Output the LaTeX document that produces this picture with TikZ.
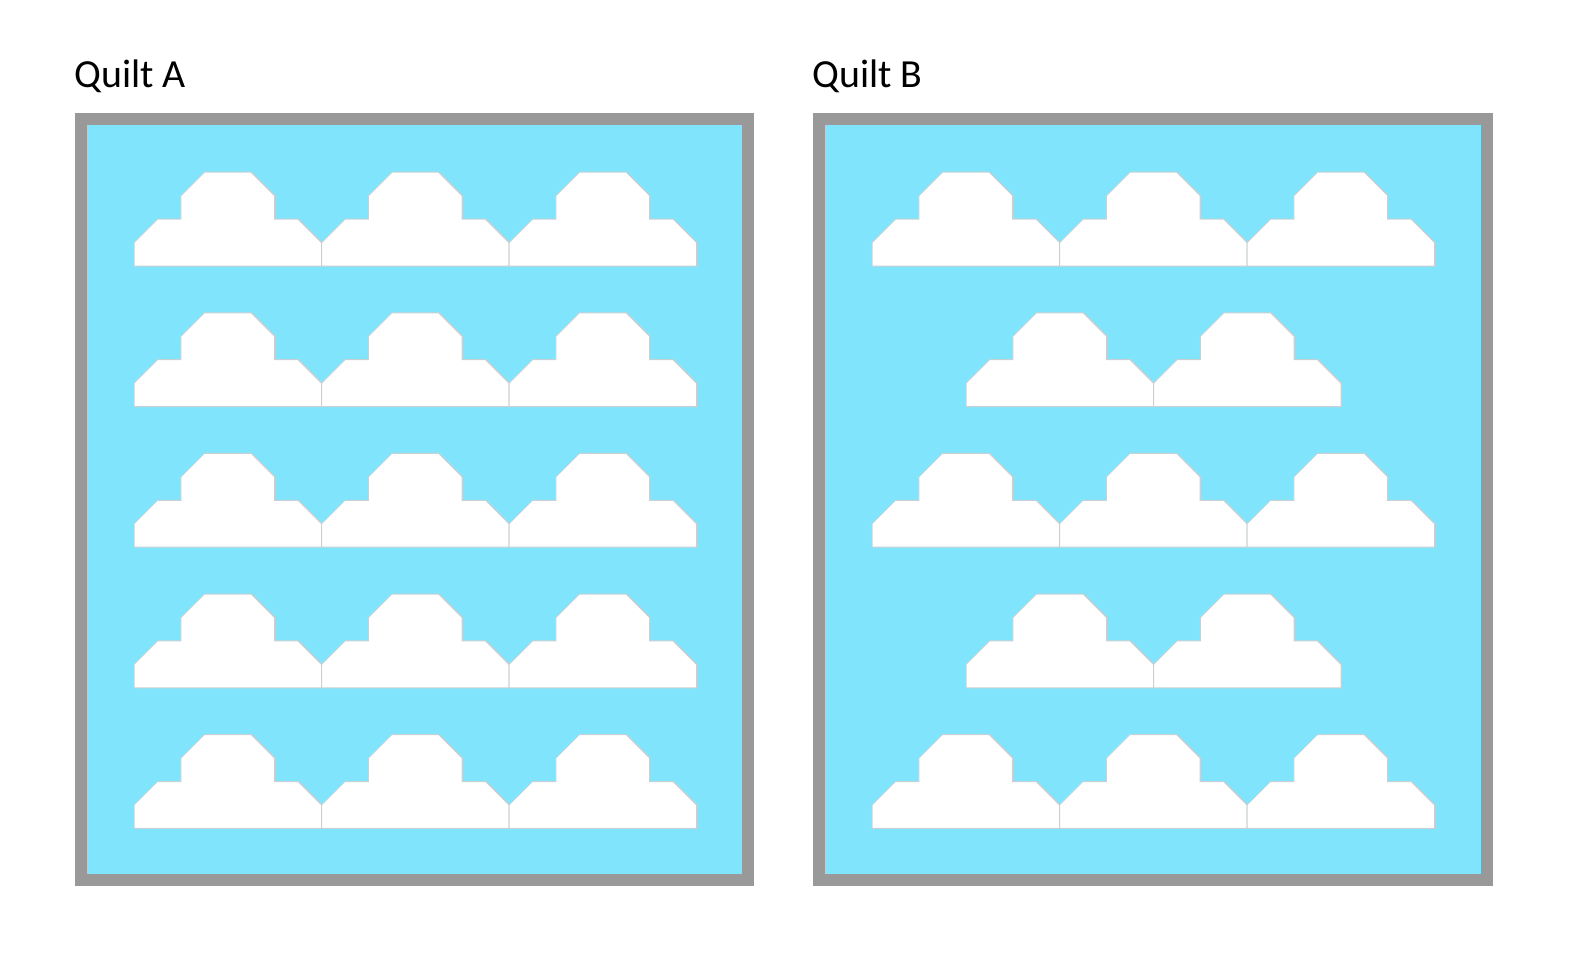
\documentclass[tikz,border=0pt]{standalone}
\usepackage{fontspec}
\setmainfont{Carlito}
\definecolor{sky}{HTML}{80E5FC}
\definecolor{frame}{HTML}{999999}
\definecolor{edge}{HTML}{C8D0D4}
\begin{document}
\begin{tikzpicture}[x=0.5bp,y=-0.5bp,
  cloudstyle/.style={fill=white,draw=edge,line width=0.5bp},
  title/.style={anchor=base west,inner sep=0pt,font=\fontsize{20}{22}\selectfont}]
\useasboundingbox (0,0) rectangle (1588,956);
\def\u{23.44}
\newcommand\cloudat[2]{\begin{scope}[shift={(#1,#2)}]\draw[cloudstyle] (0,0) -- (0,-\u) -- (\u,-2*\u) -- (2*\u,-2*\u) -- (2*\u,-3*\u) -- (3*\u,-4*\u) -- (5*\u,-4*\u) -- (6*\u,-3*\u) -- (6*\u,-2*\u) -- (7*\u,-2*\u) -- (8*\u,-\u) -- (8*\u,0) -- cycle;\end{scope}}
\node[title] (ta) at (74,87) {Quilt A};
\node[title] (tb) at (812,87) {Quilt B};
\fill[frame] (75,113) rectangle (754,886);
\fill[sky] (87,125) rectangle (742,874);
\foreach \r in {0,...,4}{\foreach \c in {0,1,2}{\cloudat{134+187.5*\c}{266+140.6*\r}}}
\fill[frame] (813,113) rectangle (1493,886);
\fill[sky] (825,125) rectangle (1481,874);
\foreach \r in {0,2,4}{\foreach \c in {0,1,2}{\cloudat{872+187.5*\c}{266+140.6*\r}}}
\foreach \r in {1,3}{\foreach \c in {0,1}{\cloudat{966+187.5*\c}{266+140.6*\r}}}
\end{tikzpicture}
\end{document}
